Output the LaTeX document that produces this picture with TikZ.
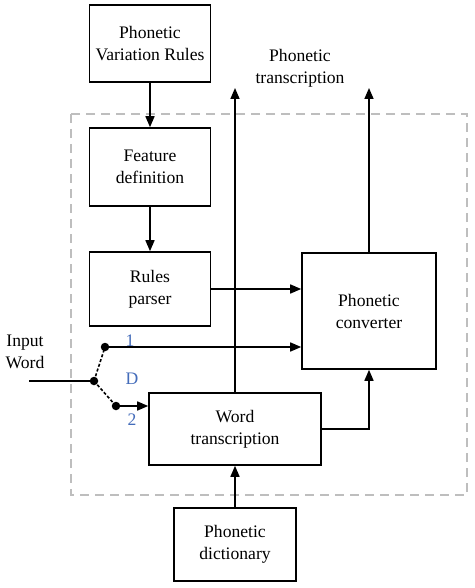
\documentclass[tikz,border=0pt]{standalone}
\usepackage{fontspec}
\setmainfont{Liberation Serif}
\usetikzlibrary{arrows.meta}
\definecolor{lblblue}{RGB}{68,108,186}
\definecolor{dashgray}{RGB}{190,190,190}
\begin{document}
\begin{tikzpicture}[x=1pt,y=-1pt,
  box/.style={draw,line width=1.6pt,align=center,inner sep=0pt,font=\fontsize{17.6}{22}\selectfont},
  txt/.style={align=center,inner sep=0pt,font=\fontsize{17.6}{22}\selectfont},
  lbl/.style={inner sep=0pt,text=lblblue,font=\fontsize{17.6}{22}\selectfont},
  conn/.style={line width=1.6pt,-{Triangle[length=11pt,width=9pt]}},
  plain/.style={line width=1.6pt},
  sw/.style={line width=1.6pt,dash pattern=on 3pt off 2pt},
  dot/.style={circle,fill=black,inner sep=0pt,minimum size=8.5pt},
  frame/.style={draw=dashgray,line width=1.4pt,dash pattern=on 9pt off 6pt}]
\useasboundingbox (0,0) rectangle (474,588);
\draw[frame] (71,114) rectangle (467,495);
\node[box,minimum width=121pt,minimum height=77pt] (pvr) at (150,43.5) {Phonetic\\Variation Rules};
\node[box,minimum width=121pt,minimum height=78pt] (fd) at (150,167) {Feature\\definition};
\node[box,minimum width=121pt,minimum height=74pt] (rp) at (150,289) {Rules\\parser};
\node[box,minimum width=134pt,minimum height=116pt] (pc) at (369,311) {Phonetic\\converter};
\node[box,minimum width=172pt,minimum height=72pt] (wt) at (235,429) {Word\\transcription};
\node[box,minimum width=122pt,minimum height=73pt] (pd) at (235,544.5) {Phonetic\\dictionary};
\node[txt] (pt) at (300,68) {Phonetic\\transcription};
\node[txt] (iw) at (25,352) {Input\\Word};
\coordinate (o1) at (235,88);
\coordinate (o2) at (369,88);
\coordinate (in) at (29,381);
\node[dot] (dd) at (94,381) {};
\node[dot] (d1) at (105,347) {};
\node[dot] (d2) at (116,406) {};
\node[lbl] (l1) at (130,341) {1};
\node[lbl] (ld) at (132,379) {D};
\node[lbl] (l2) at (132,420) {2};
\draw[conn] (pvr) -- (fd);
\draw[conn] (fd) -- (rp);
\draw[conn] (rp) -- (rp -| pc.west);
\draw[conn] (wt.north) -- (o1);
\draw[conn] (pc.north) -- (o2);
\draw[conn] (pd) -- (wt);
\draw[conn] (wt.east) -| (pc.south);
\draw[plain] (in) -- (dd.center);
\draw[sw] (dd.center) -- (d1.center);
\draw[sw] (dd.center) -- (d2.center);
\draw[conn] (d1.center) -- (d1 -| pc.west);
\draw[conn] (d2.center) -- (d2 -| wt.west);
\end{tikzpicture}
\end{document}
